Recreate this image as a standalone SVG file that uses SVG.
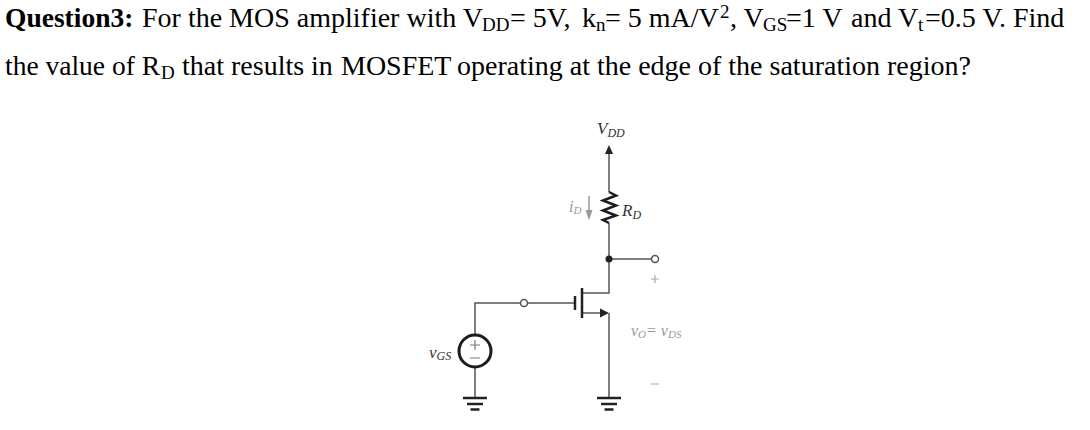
<svg xmlns="http://www.w3.org/2000/svg" width="1090" height="430" viewBox="0 0 1090 430">
<style>
.q{font-family:"Liberation Serif",serif;font-size:28px;fill:#000}
.s{font-size:19px}
.c{font-family:"Liberation Serif",serif;font-style:italic;fill:#333}
.g{fill:#999}
.w{fill:none;stroke:#555;stroke-width:1.5}
.b{fill:none;stroke:#1c1c1c;stroke-width:2.5}
.o{fill:#fff;stroke:#555;stroke-width:1.5}
</style>
<defs>
<g id="gnd"><path d="M-12 0H12" stroke="#222" stroke-width="2.5"/><path d="M-8 6H8" stroke="#222" stroke-width="2.5"/><path d="M-4.500 11.500H4.500" stroke="#222" stroke-width="2.500"/></g>
</defs>
<rect width="1090" height="430" fill="#fff"/>
<g id="question">
<text class="q" y="27"><tspan x="5" font-weight="bold" font-size="27.500">Question3:</tspan><tspan x="142">For the MOS amplifier with V</tspan><tspan class="s" x="482" dy="4">DD</tspan><tspan x="510" dy="-4">= 5V,</tspan><tspan x="582">k</tspan><tspan class="s" x="596" dy="4">n</tspan><tspan x="605" dy="-4">= 5 mA/V</tspan><tspan class="s" x="720" dy="-9">2</tspan><tspan x="730" dy="9">, V</tspan><tspan class="s" x="763" dy="4">GS</tspan><tspan x="786" dy="-4">=1 V</tspan><tspan x="851">and V</tspan><tspan class="s" x="918" dy="4">t</tspan><tspan x="925" dy="-4">=0.5 V. Find</tspan></text>
<text class="q" y="75"><tspan x="5" font-size="27.500">the value of R</tspan><tspan class="s" x="161" dy="4">D</tspan><tspan x="182" dy="-4">that results in</tspan><tspan x="341">MOSFET</tspan><tspan x="457">operating at the edge of the saturation region?</tspan></text>
</g>
<g id="connectors">
<path class="w" d="M609 150V192M609 223V293H582M609 259H651M575 303H528M520 303H475V335M475 367V398M582 313H602M609 313V398"/>
</g>
<g id="vdd"><path d="M609 145l-4 9h8z" fill="#222"/><text class="c" x="597" y="134" font-size="17">V<tspan font-size="12" dy="3">DD</tspan></text></g>
<g id="rd"><path class="b" d="M609 192l7 3.500-13 5 13 5-13 5 13 5-13 4.500 6 3"/><text class="c" x="622" y="216" font-size="17">R<tspan font-size="12" dy="3">D</tspan></text></g>
<g id="id"><path d="M589 196V218" stroke="#999" stroke-width="1.500"/><path d="M589 220l-3.500-10h7z" fill="#999"/><text class="c g" x="569" y="212" font-size="16">i<tspan font-size="11" dy="2">D</tspan></text></g>
<g id="junction"><circle cx="609" cy="259" r="3.500" fill="#222"/></g>
<g id="out"><circle class="o" cx="655" cy="259" r="3.500"/></g>
<g id="gate"><circle class="o" cx="524" cy="303" r="3.500"/></g>
<g id="mosfet"><path d="M582 288V318" stroke="#222" stroke-width="2.500"/><path d="M575 296V310" stroke="#222" stroke-width="2.500"/><path d="M609 313l-9-4.500v9z" fill="#222"/></g>
<g id="vgs"><circle cx="475" cy="351" r="16" fill="#fff" stroke="#1c1c1c" stroke-width="3"/><path d="M470 345h10M475 340v10M470 358h10" stroke="#777" stroke-width="1.200" fill="none"/><text class="c" x="429" y="358" font-size="17">v<tspan font-size="12" dy="2">GS</tspan></text></g>
<g id="gnd1"><use href="#gnd" x="475" y="398"/></g>
<g id="gnd2"><use href="#gnd" x="609" y="398"/></g>
<g id="vo"><text class="c g" x="631" y="336" font-size="16">v<tspan font-size="11" dy="2">O</tspan><tspan dy="-2">= v</tspan><tspan font-size="11" dy="2">DS</tspan></text><path d="M651 279h8M655 275v8M651 384h8" stroke="#aaa" stroke-width="1.200" fill="none"/></g>
</svg>
